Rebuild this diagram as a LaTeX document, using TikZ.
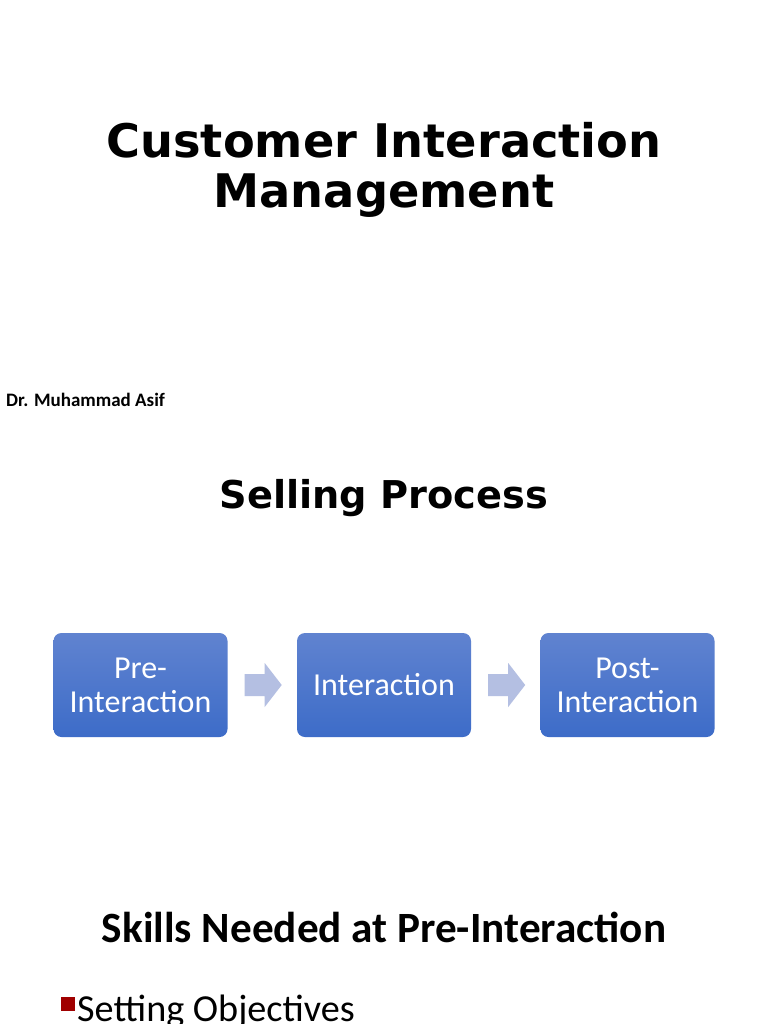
\documentclass[tikz,border=0pt]{standalone}
\usepackage{fontspec}
\setmainfont{DejaVu Sans}
\newfontfamily\carlito{Carlito}
\usetikzlibrary{calc}
\definecolor{boxtop}{RGB}{96,131,208}
\definecolor{boxbot}{RGB}{61,108,200}
\definecolor{arrowfill}{RGB}{180,191,226}
\definecolor{bulletred}{RGB}{160,0,0}
\tikzset{
  title/.style={anchor=base, inner sep=0pt, font=\fontsize{46.3}{50}\selectfont\bfseries},
  heading/.style={anchor=base, inner sep=0pt, font=\fontsize{38.3}{40}\selectfont\bfseries},
  stepbox/.style={rounded corners=8pt, top color=boxtop, bottom color=boxbot, draw=none,
    minimum width=174pt, minimum height=104pt, text=white, align=center, inner sep=0pt,
    font=\carlito\fontsize{32}{34}\selectfont},
  flowarrow/.style={fill=arrowfill, draw=none},
  author/.style={anchor=base west, inner sep=0pt, font=\carlito\bfseries\fontsize{19}{20}\selectfont},
  skillhead/.style={anchor=base, inner sep=0pt, font=\carlito\bfseries\fontsize{43.2}{44}\selectfont},
  bullettext/.style={anchor=base west, inner sep=0pt, font=\carlito\fontsize{38.2}{40}\selectfont},
}
\begin{document}
\begin{tikzpicture}[x=1pt,y=-1pt]
\useasboundingbox (0,0) rectangle (768,1024);
\clip (0,0) rectangle (768,1024);
\fill[white] (0,0) rectangle (768,1024);
\node[title] (t1) at (384,158) {Customer Interaction};
\node[title] (t2) at (384,208) {Management};
\node[author] (au) at (6,406) {Dr. Muhammad Asif};
\node[heading] (sp) at (384,508) {Selling Process};
\node[stepbox] (b1) at (140.5,685) {Pre-\\Interaction};
\node[stepbox] (b2) at (384,685) {Interaction};
\node[stepbox] (b3) at (627.5,685) {Post-\\Interaction};
\fill[flowarrow] ($(b1.east)+(17,-11)$) -- ++(20,0) -- ++(0,-11) -- ++(17,22) -- ++(-17,22) -- ++(0,-11) -- ++(-20,0) -- cycle;
\fill[flowarrow] ($(b2.east)+(17,-11)$) -- ++(20,0) -- ++(0,-11) -- ++(17,22) -- ++(-17,22) -- ++(0,-11) -- ++(-20,0) -- cycle;
\node[skillhead] (sk) at (384,942) {Skills Needed at Pre-Interaction};
\fill[bulletred] (61,997) rectangle (75,1011);
\node[bullettext] (so) at (77,1021) {Setting Objectives};
\end{tikzpicture}
\end{document}
